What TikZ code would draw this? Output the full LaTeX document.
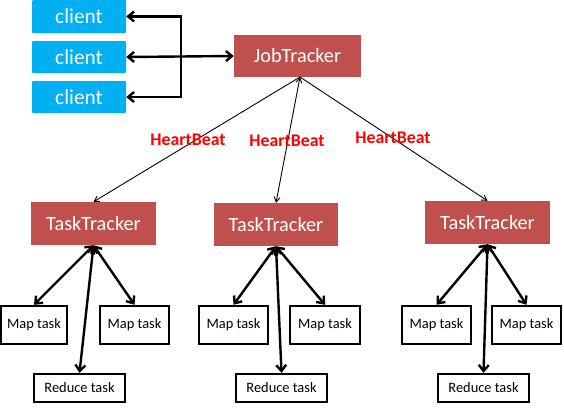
\documentclass[tikz,border=0pt]{standalone}
\usepackage{fontspec}
\setmainfont{Carlito}
\usetikzlibrary{arrows.meta}
\definecolor{clientblue}{RGB}{0,176,240}
\definecolor{trackred}{RGB}{192,80,77}
\definecolor{hbred}{RGB}{255,0,0}
\tikzset{
  clientbox/.style={fill=clientblue, text=white, minimum width=94pt, minimum height=32pt, inner sep=0pt, rounded corners=1pt, font=\fontsize{21.3}{23}\selectfont},
  trackbox/.style={fill=trackred, text=white, minimum width=125pt, minimum height=43pt, inner sep=0pt, font=\fontsize{20.3}{22}\selectfont},
  taskbox/.style={draw=black, line width=2.4pt, fill=white, minimum height=38pt, inner sep=0pt, font=\fontsize{14.4}{16}\selectfont},
  redbox/.style={taskbox, minimum height=28pt, minimum width=91pt},
  thickarr/.style={line width=2.4pt, {Straight Barb[length=6pt,width=10pt]}-{Straight Barb[length=6pt,width=10pt]}},
  thinarr/.style={line width=0.9pt, -{Straight Barb[length=5pt,width=6pt]}},
  thinarrboth/.style={line width=0.9pt, {Straight Barb[length=5pt,width=6pt]}-{Straight Barb[length=5pt,width=6pt]}},
  hb/.style={text=hbred, font=\fontsize{17.8}{19}\selectfont\bfseries}
}
\begin{document}
\begin{tikzpicture}[x=1pt,y=-1pt]
\useasboundingbox (0,0) rectangle (564,407);
\fill[white] (0,0) rectangle (564,407);
\clip (0,0) rectangle (564,407);
% clients
\node[clientbox, minimum height=33pt] (c1) at (79,16.5) {client};
\node[clientbox] (c2) at (79,57) {client};
\node[clientbox] (c3) at (79,97) {client};
% job tracker
\node[trackbox, minimum width=127pt, minimum height=42pt] (jt) at (297.5,56) {JobTracker};
% bracket
\coordinate (bx) at (181,57);
\draw[thickarr] (c1.east) -| (bx) |- (c3.east);
\draw[thickarr] (c2.east) -- (jt.west);
% task trackers
\node[trackbox] (t1) at (93.5,223.5) {TaskTracker};
\node[trackbox, minimum width=124pt] (t2) at (276,224.5) {TaskTracker};
\node[trackbox] (t3) at (487.5,222.5) {TaskTracker};
\coordinate (jb) at (300,77);
\draw[thinarr] (jb) -- (t1.north);
\draw[thinarrboth] (jb) -- (t2.north);
\draw[thinarr] (jb) -- (t3.north);
\node[hb] (h1) at (188,140) {HeartBeat};
\node[hb] (h2) at (287,141) {HeartBeat};
\node[hb] (h3) at (393,138) {HeartBeat};
% tasks 1
\node[taskbox, minimum width=65.6pt] (m1a) at (34,325) {Map task};
\node[taskbox, minimum width=68.6pt] (m1b) at (134.5,325) {Map task};
\node[redbox] (r1) at (79.5,388) {Reduce task};
% tasks 2
\node[taskbox, minimum width=68.6pt] (m2a) at (233.5,325) {Map task};
\node[taskbox, minimum width=69.6pt] (m2b) at (325,325) {Map task};
\node[redbox] (r2) at (281.5,388) {Reduce task};
% tasks 3
\node[taskbox, minimum width=68.6pt] (m3a) at (436.5,325) {Map task};
\node[taskbox, minimum width=68.6pt] (m3b) at (526.5,325) {Map task};
\node[redbox] (r3) at (483.5,388) {Reduce task};
% task arrows
\foreach \t/\a/\b/\r in {t1/m1a/m1b/r1, t2/m2a/m2b/r2, t3/m3a/m3b/r3}{
  \draw[thickarr] (\t.south) -- (\a.north);
  \draw[thickarr] (\t.south) -- (\b.north);
  \draw[thickarr] (\t.south) -- (\r.north);
}
\end{tikzpicture}
\end{document}
